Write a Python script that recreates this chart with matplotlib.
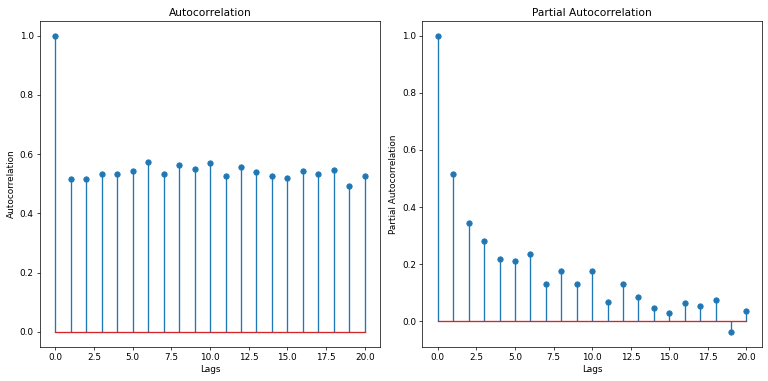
import matplotlib
matplotlib.use('Agg')
import matplotlib.pyplot as plt
import numpy as np

lags = list(range(21))
acf_vals = [1.0, 0.516, 0.518, 0.534, 0.532, 0.544, 0.574, 0.533, 0.562, 0.549,
            0.570, 0.526, 0.558, 0.539, 0.527, 0.520, 0.542, 0.532, 0.546, 0.492, 0.527]
pacf_vals = [1.0, 0.517, 0.344, 0.281, 0.220, 0.210, 0.237, 0.129, 0.175, 0.130,
             0.175, 0.069, 0.129, 0.085, 0.048, 0.028, 0.064, 0.054, 0.074, -0.037, 0.035]

fig = plt.figure(figsize=(12, 381 / 64), dpi=64)
ax1 = fig.add_axes([0.052, 0.090, 0.443, 0.855])
ax2 = fig.add_axes([0.550, 0.090, 0.442, 0.855])

for ax, vals, title, ylabel in [
        (ax1, acf_vals, 'Autocorrelation', 'Autocorrelation'),
        (ax2, pacf_vals, 'Partial Autocorrelation', 'Partial Autocorrelation')]:
    ax.stem(lags, vals)
    ax.set_title(title)
    ax.set_xlabel('Lags')
    ax.set_ylabel(ylabel)

fig.savefig('out.png', dpi=64)
